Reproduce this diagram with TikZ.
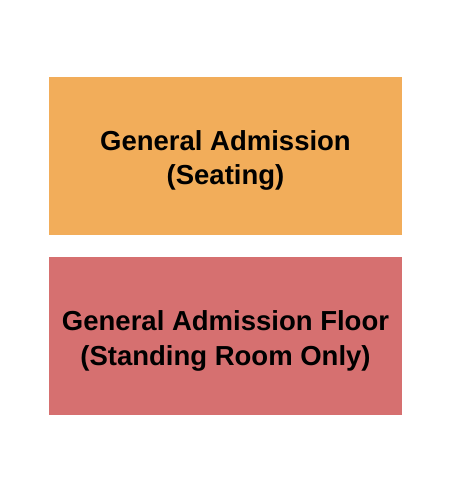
\documentclass[tikz,border=0pt]{standalone}
\usepackage{fontspec}
\setmainfont{Liberation Sans}
\definecolor{seatorange}{HTML}{F2AD5A}
\definecolor{floorred}{HTML}{D67070}
\tikzset{
  section/.style={draw=none, minimum width=353pt, inner sep=0pt},
  sectionlabel/.style={inner sep=0pt, align=center, font=\fontsize{27.5}{34.5}\selectfont\bfseries, text=black}
}
\begin{document}
\begin{tikzpicture}[x=1pt,y=-1pt]
\useasboundingbox (0,0) rectangle (450,500);
\node[section, fill=seatorange, minimum height=158pt] (seating) at (225.5,156) {};
\node[section, fill=floorred, minimum height=158.5pt] (floor) at (225.5,336) {};
\node[sectionlabel] (seatingtext) at ([yshift=-4.5pt]seating.center) {General Admission\\(Seating)};
\node[sectionlabel] (floortext) at ([yshift=-5pt]floor.center) {General Admission Floor\\(Standing Room Only)};
\end{tikzpicture}
\end{document}
